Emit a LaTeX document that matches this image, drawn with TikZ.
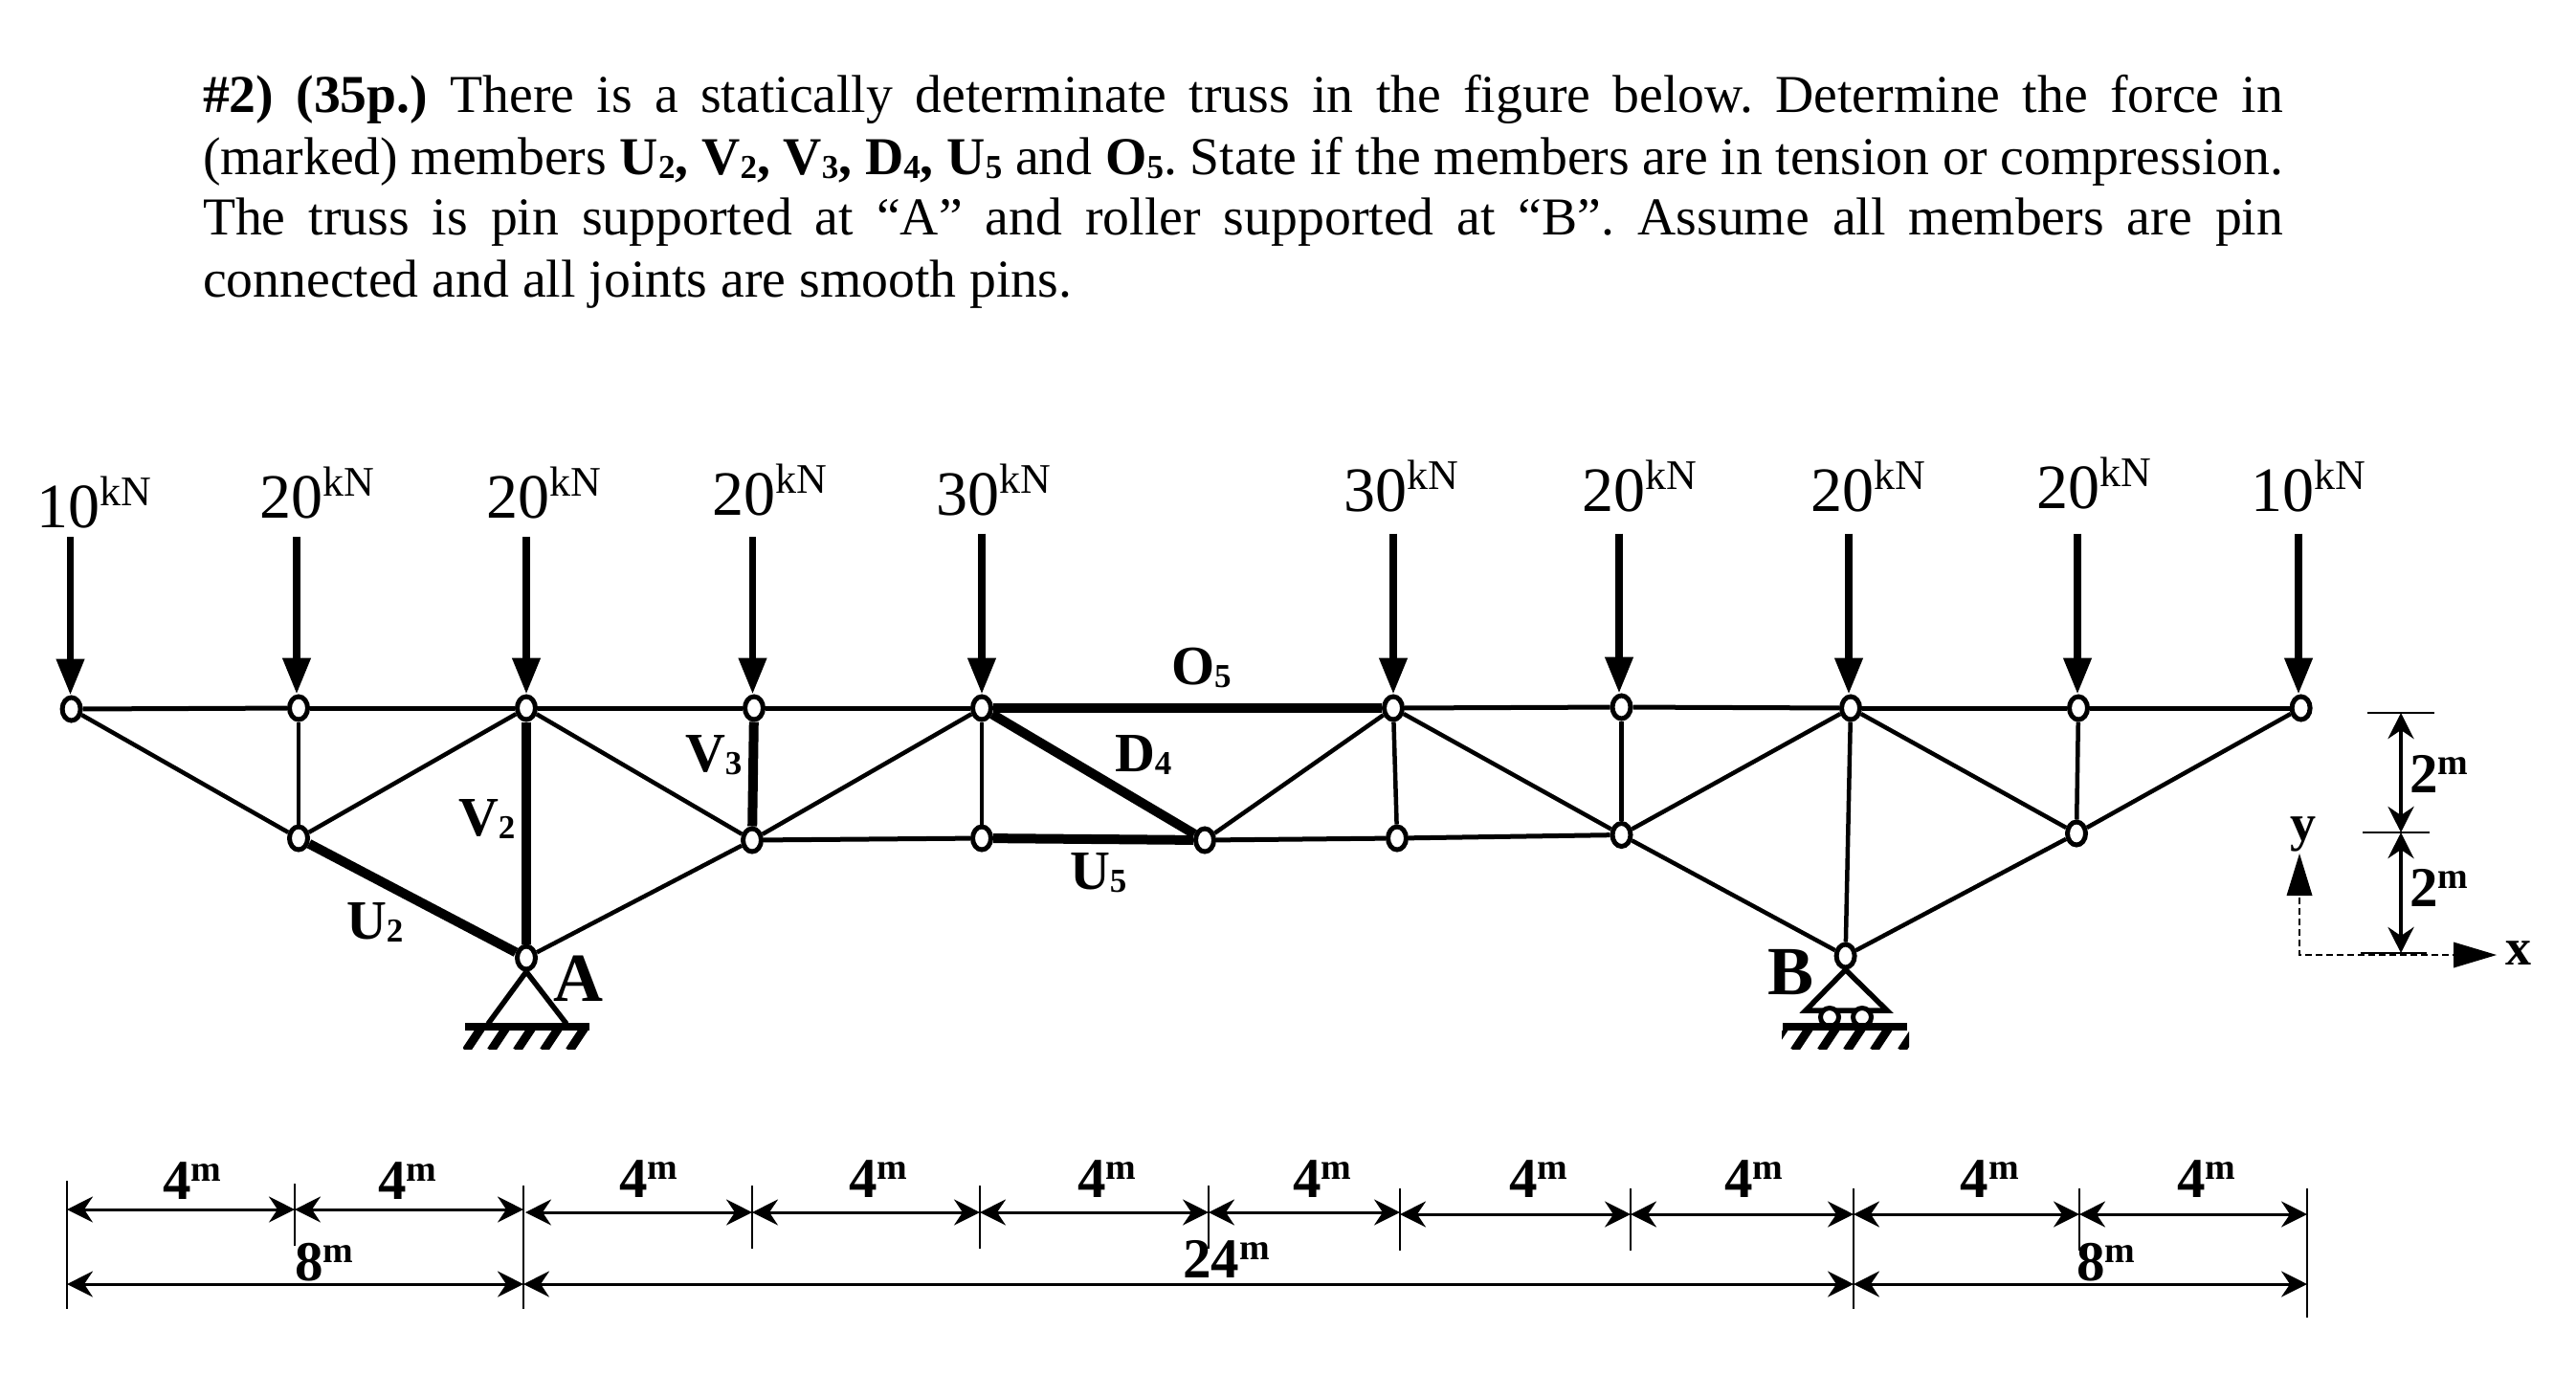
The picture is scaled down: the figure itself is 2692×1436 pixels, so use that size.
\documentclass[tikz,border=0pt]{standalone}
\usepackage{fontspec}
\setmainfont{Liberation Serif}
\usetikzlibrary{arrows.meta,shapes.geometric}
\frenchspacing
\newcommand\fsz[1]{\fontsize{#1}{#1}\selectfont}
\newcommand\bodysub[1]{\raisebox{-4pt}{\fsz{35}#1}}
\newcommand\mem[2]{\textbf{#1\bodysub{#2}}}
\newcommand\memlab[5]{\node[txt,font=\fsz{58}\bfseries] (#1) at (#2,#3) {#4\raisebox{-3pt}{\fsz{35}#5}};}
\newcommand\forcelab[4]{\node[txt] (#1) at (#2,#3) {\fsz{66}#4\raisebox{23pt}{\fsz{44}kN}};}
\newcommand\dimlab[4]{\node[txt,font=\fsz{59}\bfseries] (#1) at (#2,#3) {#4\raisebox{19pt}{\fsz{38}m}};}
\newcommand\bodyline[3]{\node[txt] (#1) at (212,#2) {\fsz{55.7}\spaceskip=0.25em plus 1em minus 0.22em\makebox[2174pt][s]{#3}};}
\tikzset{
  txt/.style={anchor=base west,inner sep=0pt,outer sep=0pt},
  joint/.style={ellipse,draw=black,fill=white,line width=5pt,minimum width=19pt,minimum height=24pt,inner sep=0pt},
  member/.style={line width=4.5pt},
  chord/.style={line width=5pt},
  heavy/.style={line width=10pt},
  loadarrow/.style={line width=7.5pt,-{Triangle[length=38pt,width=28pt]}},
  dimarrow/.style={line width=3pt,{Stealth[length=27pt,width=27pt,inset=9pt]}-{Stealth[length=27pt,width=27pt,inset=9pt]}},
  vdimarrow/.style={line width=4pt,{Stealth[length=27pt,width=27pt,inset=9pt]}-{Stealth[length=27pt,width=27pt,inset=9pt]}},
  tick/.style={line width=2.2pt},
  axisline/.style={line width=2.4pt,dash pattern=on 7pt off 4pt},
  support/.style={line width=5.5pt,line join=miter},
  groundbar/.style={fill=black},
  hatch/.style={line width=9pt},
  roller/.style={circle,draw=black,fill=white,line width=5pt,minimum size=19pt,inner sep=0pt},
}
\begin{document}
\begin{tikzpicture}[x=1pt,y=-1pt]
\useasboundingbox (0,0) rectangle (2692,1436);
\fill[white] (0,0) rectangle (2692,1436);
% statement
\bodyline{line1}{117}{\textbf{\#2) (35p.)} There is a statically determinate truss in the figure below. Determine the force in}
\bodyline{line2}{182}{(marked) members \mem{U}{2}\textbf{,} \mem{V}{2}\textbf{,} \mem{V}{3}\textbf{,} \mem{D}{4}\textbf{,} \mem{U}{5} and \mem{O}{5}. State if the members are in tension or compression.}
\bodyline{line3}{245}{The truss is pin supported at “A” and roller supported at “B”. Assume all members are pin}
\node[txt] (line4) at (212,310) {\fsz{55.7}connected and all joints are smooth pins.};
% joints
\foreach \n/\x/\y in {T1/74.6/741,T2/312/740,T3/550/740,T4/788/740,T5/1026/740,T6/1456/740,T7/1694.5/739,T8/1934/740,T9/2172/740,T10/2404.6/740,
  L2/312/876,L4/786/878,L5/1026/876,Lm/1259/878,L6/1460/876,L7/1694.5/872.5,L9/2170/871,A/550/1001,B/1928.6/999}
  {\node[joint] (\n) at (\x,\y) {};}
% members
\foreach \a/\b in {T1/T2,T2/T3,T3/T4,T4/T5,T6/T7,T7/T8,T8/T9,T9/T10,L4/L5,Lm/L6,L6/L7}
  {\draw[chord] (\a) -- (\b);}
\foreach \a/\b in {T1/L2,T2/L2,L2/T3,T3/L4,A/L4,L4/T5,T5/L5,Lm/T6,T6/L6,T6/L7,T7/L7,L7/T8,L7/B,T8/B,T8/L9,T9/L9,L9/T10,L9/B}
  {\draw[member] (\a) -- (\b);}
\foreach \a/\b in {L2/A,T3/A,T4/L4,T5/T6,T5/Lm,L5/Lm}
  {\draw[heavy] (\a) -- (\b);}
% loads
\foreach \n/\x/\y/\j in {1/73.5/561/T1,2/310/561/T2,3/550/561/T3,4/786.5/561/T4,5/1026/557.5/T5,6/1456/557.5/T6,7/1692/557.5/T7,8/1932/557.5/T8,9/2171/557.5/T9,10/2402/557.5/T10}
  {\coordinate (top\n) at (\x,\y); \draw[loadarrow] (top\n) -- (top\n |- \j.north);}
\forcelab{f1}{38}{551}{10}
\forcelab{f2}{271}{541}{20}
\forcelab{f3}{508}{541}{20}
\forcelab{f4}{744}{538}{20}
\forcelab{f5}{978}{538}{30}
\forcelab{f6}{1404}{534}{30}
\forcelab{f7}{1653}{534}{20}
\forcelab{f8}{1892}{534}{20}
\forcelab{f9}{2128}{531}{20}
\forcelab{f10}{2352}{534}{10}
% member labels
\memlab{lO}{1224}{715}{O}{5}
\memlab{lD}{1165}{806}{D}{4}
\memlab{lU5}{1118}{929}{U}{5}
\memlab{lV3}{716}{806}{V}{3}
\memlab{lV2}{479}{873}{V}{2}
\memlab{lU2}{362}{981}{U}{2}
% support A
\coordinate (Al) at (510,1070); \coordinate (Ar) at (592,1070);
\draw[support] (A.south) -- (Al) (A.south) -- (Ar);
\fill[groundbar] (486,1069) rectangle (616,1077);
\begin{scope}
\clip (484,1077) rectangle (617,1096);
\foreach \x in {487,513,540,568,595} {\draw[hatch] (\x,1098) -- ++(16,-24);}
\end{scope}
\node[txt,font=\fsz{72}\bfseries] (labA) at (578,1046) {A};
% support B
\coordinate (Bl) at (1887,1056); \coordinate (Br) at (1972,1056);
\draw[support] (B.south) -- (Bl) -- (Br) -- cycle;
\node[roller] (r1) at (1912,1063) {};
\node[roller] (r2) at (1946,1063) {};
\fill[groundbar] (1863,1069) rectangle (1993,1077);
\begin{scope}
\clip (1862,1077) rectangle (1995,1096);
\foreach \x in {1849,1875,1903,1930,1958,1987} {\draw[hatch] (\x,1098) -- ++(16,-24);}
\end{scope}
\node[txt,font=\fsz{72}\bfseries] (labB) at (1847,1039) {B};
% horizontal dimension ticks
\foreach \n/\x/\ya/\yb in {1/70/1234/1368,2/308/1237/1302,3/547/1239/1368,4/786/1239/1305,5/1024/1239/1305,6/1263/1239/1305,7/1463/1242/1307,8/1704/1242/1307,9/1937/1242/1368,10/2173/1242/1307,11/2411/1242/1377}
  {\coordinate (ta\n) at (\x,\ya); \coordinate (tb\n) at (\x,\yb); \draw[tick] (ta\n) -- (tb\n);}
% horizontal dimension arrows
\foreach \n/\xa/\xb/\y in {1/70/308/1264,2/308/547/1264,3/549/786/1267,4/786/1024/1267,5/1024/1263/1267,6/1263/1463/1267,7/1463/1704/1269,8/1704/1937/1269,9/1937/2173/1269,10/2173/2411/1269,11/70/547/1342,12/547/1937/1342,13/1937/2411/1342}
  {\coordinate (da\n) at (\xa,\y); \coordinate (db\n) at (\xb,\y); \draw[dimarrow] (da\n) -- (db\n);}
\foreach \n/\x/\y in {1/170/1253,2/395/1253,3/647/1251,4/887/1251,5/1126/1251,6/1351/1251,7/1577/1251,8/1802/1251,9/2048.5/1251,10/2275/1251}
  {\dimlab{dl\n}{\x}{\y}{4}}
\dimlab{dl11}{308}{1338}{8}
\dimlab{dl12}{1236}{1335}{24}
\dimlab{dl13}{2170}{1338}{8}
% vertical dimensions
\coordinate (vt) at (2509,745); \coordinate (vm) at (2509,870); \coordinate (vb) at (2509,996);
\coordinate (tt1) at (2474,745); \coordinate (tt2) at (2544,745);
\coordinate (tm1) at (2469,870); \coordinate (tm2) at (2539,870);
\coordinate (tb1x) at (2467,996); \coordinate (tb2x) at (2536,996);
\draw[tick] (tt1) -- (tt2);
\draw[tick] (tm1) -- (tm2);
\draw[tick] (tb1x) -- (tb2x);
\draw[vdimarrow] (vt) -- (vm);
\draw[vdimarrow] (vm) -- (vb);
\dimlab{vl1}{2518}{828}{2}
\dimlab{vl2}{2518}{947}{2}
% axes
\coordinate (o) at (2403,998); \coordinate (oy) at (2403,892); \coordinate (ox) at (2609,998);
\draw[axisline] (2403,938) -- (o) -- (2566,998);
\fill (oy) -- (2389.5,936) -- (2416.5,936) -- cycle;
\fill (ox) -- (2564,984.5) -- (2564,1011.5) -- cycle;
\node[txt,font=\fsz{54}\bfseries] (ly) at (2393,878) {y};
\node[txt,font=\fsz{54}\bfseries] (lx) at (2618,1008) {x};
\end{tikzpicture}
\end{document}
